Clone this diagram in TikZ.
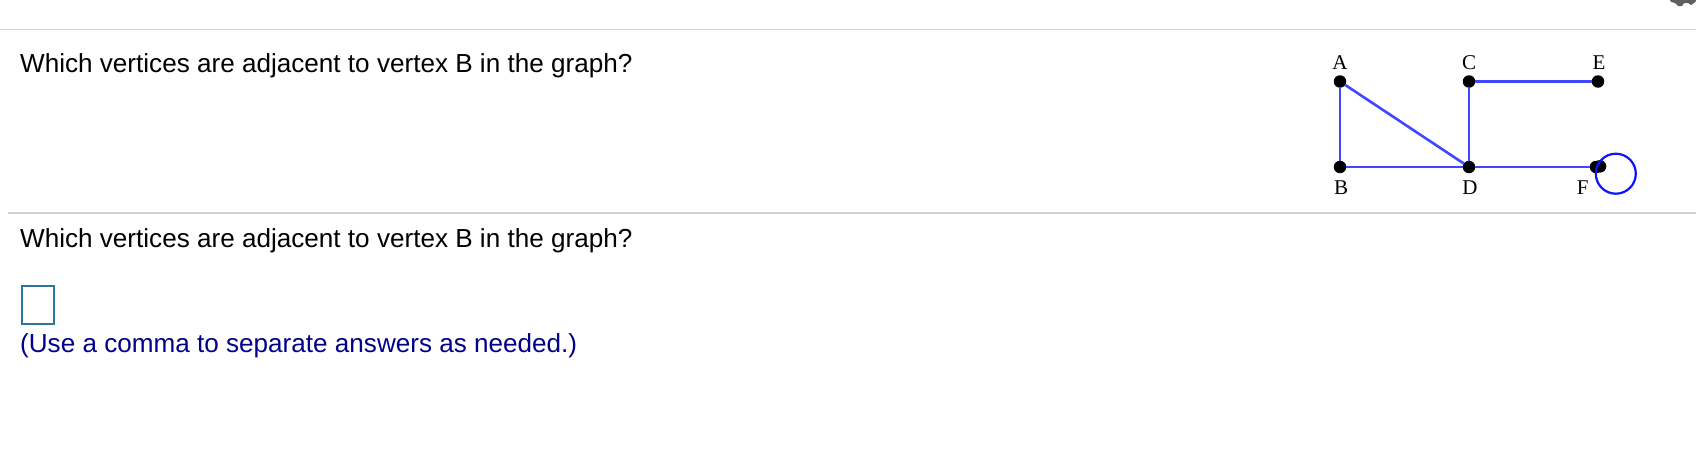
\documentclass[tikz,border=0pt]{standalone}
\usepackage{fontspec}
\setmainfont{Liberation Sans}
\newfontfamily\serifvert{Liberation Serif}
\definecolor{sepgray}{RGB}{208,211,222}
\definecolor{edgeblue}{RGB}{64,72,255}
\definecolor{loopblue}{RGB}{10,20,255}
\definecolor{hintblue}{RGB}{0,0,139}
\definecolor{boxteal}{RGB}{46,120,150}
\definecolor{icongray}{RGB}{95,95,95}
\begin{document}
\begin{tikzpicture}[x=1pt,y=-1pt,
  question/.style={anchor=base west,inner sep=0pt,font=\fontsize{26.1}{30}\selectfont},
  vtx/.style={circle,fill=black,inner sep=0pt,minimum size=12.5pt},
  vlabel/.style={anchor=base,inner sep=0pt,font=\serifvert\fontsize{21}{24}\selectfont},
  edge/.style={draw=edgeblue,line width=2.6pt},
  sep/.style={draw=sepgray,line width=1.6pt}]
\useasboundingbox (0,0) rectangle (1696,474);
\fill[white] (0,0) rectangle (1696,474);
% top-right icon (cut off)
\fill[icongray] (1670,0) -- (1671,2) -- (1675,3) -- (1678,6) -- (1682,6) -- (1684,3) -- (1688,3) -- (1691,5) -- (1694,3) -- (1696,1) -- (1696,0) -- cycle;
% separators
\draw[sep] (0,29.5) -- (1696,29.5);
\draw[sep] (8,213) -- (1696,213);
% texts
\node[question] (q1) at (20,72.5) {Which vertices are adjacent to vertex B in the graph?};
\node[question] (q2) at (20,247.7) {Which vertices are adjacent to vertex B in the graph?};
\node[draw=boxteal,line width=2pt,minimum width=32pt,minimum height=38pt,inner sep=0pt] (ans) at (38,304.5) {};
\node[question,text=hintblue] (hint) at (20,352) {(Use a comma to separate answers as needed.)};
% vertices
\node[vtx] (A) at (1340,81.5) {};
\node[vtx] (C) at (1469,81.5) {};
\node[vtx] (E) at (1598,81.5) {};
\node[vtx] (B) at (1340,167) {};
\node[vtx] (D) at (1469,167) {};
\node[vtx] (F) at (1596,167) {};
\fill[black] (1600,166.3) circle (6.3);
% edges
\draw[edge] (A) -- (B);
\draw[edge] (A) -- (D);
\draw[edge] (C) -- (D);
\draw[edge] (C) -- (E);
\draw[edge] (B) -- (D);
\draw[edge] (D) -- (F);
\draw[draw=loopblue,line width=2.2pt] (1615.8,173.7) circle (20);
% labels
\node[vlabel] (lA) at (1340,69.5) {A};
\node[vlabel] (lC) at (1469,69.5) {C};
\node[vlabel] (lE) at (1599,69.5) {E};
\node[vlabel] (lB) at (1341,194) {B};
\node[vlabel] (lD) at (1470,194) {D};
\node[vlabel] (lF) at (1582.7,194) {F};
\end{tikzpicture}
\end{document}
